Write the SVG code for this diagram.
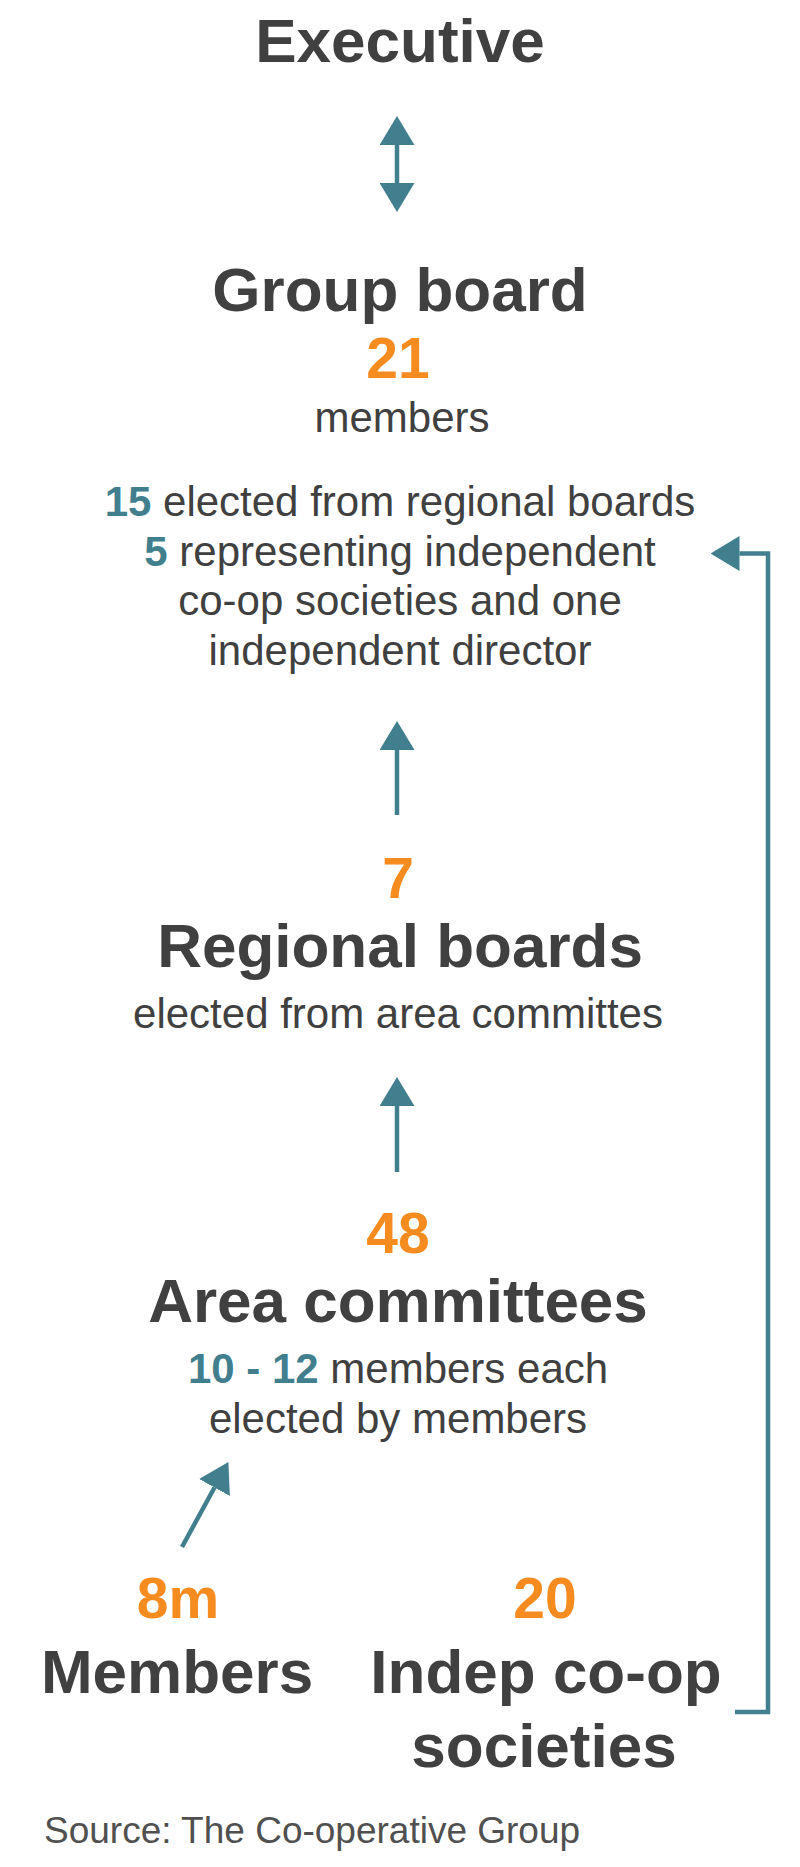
<svg xmlns="http://www.w3.org/2000/svg" width="800" height="1867" viewBox="0 0 800 1867">
<style>
text{font-family:"Liberation Sans",Arial,sans-serif;text-anchor:middle;fill:#404040}
.h{font-size:62px;font-weight:bold}
.n{font-size:57px;font-weight:bold;fill:#f68b1f}
.b{font-size:42px}
.t{font-weight:bold;fill:#417f8f}
.src{font-size:37px;text-anchor:start;fill:#505050}
.c{fill:none;stroke:#417f8f;stroke-width:4.5}
</style>
<defs>
<marker id="head" viewBox="0 0 29 35" refX="0" refY="17.5" markerWidth="29" markerHeight="35" markerUnits="userSpaceOnUse" orient="auto-start-reverse">
<path d="M0,0 L29,17.5 L0,35 Z" fill="#417f8f"/>
</marker>
</defs>
<rect width="800" height="1867" fill="#ffffff"/>
<g id="connectors">
<line class="c" x1="397" y1="145" x2="397" y2="183" marker-start="url(#head)" marker-end="url(#head)"/>
<line class="c" x1="397" y1="815" x2="397" y2="750" marker-end="url(#head)"/>
<line class="c" x1="397" y1="1172" x2="397" y2="1106" marker-end="url(#head)"/>
<line class="c" x1="182" y1="1547" x2="214.5" y2="1487.5" marker-end="url(#head)"/>
<path class="c" d="M735,1712 H768 V553.5 H739.5" marker-end="url(#head)"/>
</g>
<g id="executive">
<text class="h" x="400" y="62">Executive</text>
</g>
<g id="group-board">
<text class="h" x="400" y="311">Group board</text>
<text class="n" x="398" y="378">21</text>
<text class="b" x="402" y="432">members</text>
<text class="b" x="400" y="516"><tspan class="t">15</tspan> elected from regional boards</text>
<text class="b" x="400" y="566"><tspan class="t">5</tspan> representing independent</text>
<text class="b" x="400" y="615">co-op societies and one</text>
<text class="b" x="400" y="665">independent director</text>
</g>
<g id="regional-boards">
<text class="n" x="398" y="898">7</text>
<text class="h" x="400" y="967">Regional boards</text>
<text class="b" x="398" y="1028">elected from area committes</text>
</g>
<g id="area-committees">
<text class="n" x="398" y="1253">48</text>
<text class="h" x="398" y="1322">Area committees</text>
<text class="b" x="398" y="1383"><tspan class="t">10 - 12</tspan> members each</text>
<text class="b" x="398" y="1433">elected by members</text>
</g>
<g id="members">
<text class="n" x="178" y="1618">8m</text>
<text class="h" x="177" y="1693">Members</text>
</g>
<g id="indep-societies">
<text class="n" x="545" y="1618">20</text>
<text class="h" x="546" y="1693">Indep co-op</text>
<text class="h" x="544" y="1767">societies</text>
</g>
<g id="source">
<text class="src" x="44" y="1843">Source: The Co-operative Group</text>
</g>
</svg>
